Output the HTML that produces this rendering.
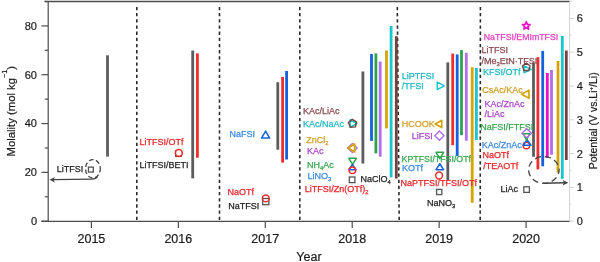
<!DOCTYPE html>
<html><head><meta charset="utf-8"><style>
html,body{margin:0;padding:0;background:#fff;}
body{width:600px;height:262px;overflow:hidden;}
svg{display:block;will-change:transform;}
text{font-family:"Liberation Sans",sans-serif;}
.t9{font-size:9px;stroke-width:0.25px;}
.t11{font-size:11px;fill:#1a1a1a;stroke:#1a1a1a;stroke-width:0.2px;}
.t12{font-size:12.5px;fill:#1a1a1a;stroke:#1a1a1a;stroke-width:0.2px;}
</style></head><body>
<svg width="600" height="262" viewBox="0 0 600 262">
<line x1="48.2" y1="1.5" x2="48.2" y2="221.5" stroke="#4d4d4d" stroke-width="1.2"/>
<line x1="44.5" y1="1.5" x2="570.2" y2="1.5" stroke="#4d4d4d" stroke-width="1.3"/>
<line x1="41.5" y1="221.3" x2="570.2" y2="221.3" stroke="#4d4d4d" stroke-width="1.3"/>
<line x1="569.5" y1="1.5" x2="569.5" y2="221.3" stroke="#d4d4d4" stroke-width="1"/>
<line x1="41.5" y1="221.20" x2="48.2" y2="221.20" stroke="#4d4d4d" stroke-width="1.2"/>
<text x="37" y="225.10" text-anchor="end" class="t11">0</text>
<line x1="44.8" y1="196.79" x2="48.2" y2="196.79" stroke="#4d4d4d" stroke-width="1.2"/>
<line x1="41.5" y1="172.38" x2="48.2" y2="172.38" stroke="#4d4d4d" stroke-width="1.2"/>
<text x="37" y="176.28" text-anchor="end" class="t11">20</text>
<line x1="44.8" y1="147.97" x2="48.2" y2="147.97" stroke="#4d4d4d" stroke-width="1.2"/>
<line x1="41.5" y1="123.56" x2="48.2" y2="123.56" stroke="#4d4d4d" stroke-width="1.2"/>
<text x="37" y="127.46" text-anchor="end" class="t11">40</text>
<line x1="44.8" y1="99.15" x2="48.2" y2="99.15" stroke="#4d4d4d" stroke-width="1.2"/>
<line x1="41.5" y1="74.74" x2="48.2" y2="74.74" stroke="#4d4d4d" stroke-width="1.2"/>
<text x="37" y="78.64" text-anchor="end" class="t11">60</text>
<line x1="44.8" y1="50.33" x2="48.2" y2="50.33" stroke="#4d4d4d" stroke-width="1.2"/>
<line x1="41.5" y1="25.92" x2="48.2" y2="25.92" stroke="#4d4d4d" stroke-width="1.2"/>
<text x="37" y="29.82" text-anchor="end" class="t11">80</text>
<line x1="44.8" y1="1.51" x2="48.2" y2="1.51" stroke="#4d4d4d" stroke-width="1.2"/>
<line x1="569.6" y1="221.20" x2="573.8" y2="221.20" stroke="#d0d0d0" stroke-width="1"/>
<text x="576.8" y="225.10" class="t11">0</text>
<line x1="569.6" y1="204.30" x2="571.8" y2="204.30" stroke="#d8d8d8" stroke-width="1"/>
<line x1="569.6" y1="187.40" x2="573.8" y2="187.40" stroke="#d0d0d0" stroke-width="1"/>
<text x="576.8" y="191.30" class="t11">1</text>
<line x1="569.6" y1="170.50" x2="571.8" y2="170.50" stroke="#d8d8d8" stroke-width="1"/>
<line x1="569.6" y1="153.60" x2="573.8" y2="153.60" stroke="#d0d0d0" stroke-width="1"/>
<text x="576.8" y="157.50" class="t11">2</text>
<line x1="569.6" y1="136.70" x2="571.8" y2="136.70" stroke="#d8d8d8" stroke-width="1"/>
<line x1="569.6" y1="119.80" x2="573.8" y2="119.80" stroke="#d0d0d0" stroke-width="1"/>
<text x="576.8" y="123.70" class="t11">3</text>
<line x1="569.6" y1="102.90" x2="571.8" y2="102.90" stroke="#d8d8d8" stroke-width="1"/>
<line x1="569.6" y1="86.00" x2="573.8" y2="86.00" stroke="#d0d0d0" stroke-width="1"/>
<text x="576.8" y="89.90" class="t11">4</text>
<line x1="569.6" y1="69.10" x2="571.8" y2="69.10" stroke="#d8d8d8" stroke-width="1"/>
<line x1="569.6" y1="52.20" x2="573.8" y2="52.20" stroke="#d0d0d0" stroke-width="1"/>
<text x="576.8" y="56.10" class="t11">5</text>
<line x1="569.6" y1="35.30" x2="571.8" y2="35.30" stroke="#d8d8d8" stroke-width="1"/>
<line x1="569.6" y1="18.40" x2="573.8" y2="18.40" stroke="#d0d0d0" stroke-width="1"/>
<text x="576.8" y="22.30" class="t11">6</text>
<line x1="569.6" y1="1.50" x2="571.8" y2="1.50" stroke="#d8d8d8" stroke-width="1"/>
<line x1="91.40" y1="221.3" x2="91.40" y2="228" stroke="#4d4d4d" stroke-width="1.2"/>
<text x="91.40" y="242.7" text-anchor="middle" class="t12">2015</text>
<line x1="178.34" y1="221.3" x2="178.34" y2="228" stroke="#4d4d4d" stroke-width="1.2"/>
<text x="178.34" y="242.7" text-anchor="middle" class="t12">2016</text>
<line x1="265.28" y1="221.3" x2="265.28" y2="228" stroke="#4d4d4d" stroke-width="1.2"/>
<text x="265.28" y="242.7" text-anchor="middle" class="t12">2017</text>
<line x1="352.22" y1="221.3" x2="352.22" y2="228" stroke="#4d4d4d" stroke-width="1.2"/>
<text x="352.22" y="242.7" text-anchor="middle" class="t12">2018</text>
<line x1="439.16" y1="221.3" x2="439.16" y2="228" stroke="#4d4d4d" stroke-width="1.2"/>
<text x="439.16" y="242.7" text-anchor="middle" class="t12">2019</text>
<line x1="526.10" y1="221.3" x2="526.10" y2="228" stroke="#4d4d4d" stroke-width="1.2"/>
<text x="526.10" y="242.7" text-anchor="middle" class="t12">2020</text>
<text x="309" y="260.6" text-anchor="middle" class="t12">Year</text>
<text transform="translate(14.6,111.2) rotate(-90)" text-anchor="middle" font-size="11.3" fill="#1a1a1a" stroke="#1a1a1a" stroke-width="0.2">Molality (mol kg<tspan dy="-8" font-size="7.2">−1</tspan><tspan dy="8">)</tspan></text>
<text transform="translate(596.6,120.8) rotate(-90)" text-anchor="middle" font-size="10.5" fill="#1a1a1a" stroke="#1a1a1a" stroke-width="0.2">Potential (V vs.Li<tspan dy="-4" font-size="6">+</tspan><tspan dy="4">/Li)</tspan></text>
<line x1="136.8" y1="6.9" x2="136.8" y2="221" stroke="#2a2a2a" stroke-width="1.6" stroke-dasharray="3.3 2.87"/>
<line x1="219.5" y1="6.9" x2="219.5" y2="221" stroke="#2a2a2a" stroke-width="1.6" stroke-dasharray="3.3 2.87"/>
<line x1="299.8" y1="6.9" x2="299.8" y2="221" stroke="#2a2a2a" stroke-width="1.6" stroke-dasharray="3.3 2.87"/>
<line x1="397.3" y1="6.9" x2="399.2" y2="221" stroke="#2a2a2a" stroke-width="1.6" stroke-dasharray="3.3 2.87"/>
<line x1="480.4" y1="6.9" x2="480.2" y2="221" stroke="#2a2a2a" stroke-width="1.6" stroke-dasharray="3.3 2.87"/>
<rect x="106.10" y="55.3" width="2.8" height="101.30" fill="#5c5c5c"/>
<rect x="191.30" y="50.5" width="2.8" height="127.90" fill="#5c5c5c"/>
<rect x="196.00" y="53.4" width="2.8" height="104.30" fill="#ef2e2c"/>
<rect x="276.40" y="82.2" width="2.8" height="67.50" fill="#5c5c5c"/>
<rect x="281.20" y="76.9" width="2.8" height="85.70" fill="#ef2e2c"/>
<rect x="285.20" y="71" width="2.8" height="88.50" fill="#1563dc"/>
<rect x="361.50" y="71.5" width="2.8" height="92.00" fill="#5c5c5c"/>
<rect x="370.10" y="54" width="2.8" height="86.90" fill="#1563dc"/>
<rect x="374.50" y="53.4" width="2.8" height="100.00" fill="#2fa24c"/>
<rect x="378.80" y="61.6" width="2.8" height="95.10" fill="#b06ee8"/>
<rect x="385.10" y="50.5" width="2.8" height="77.90" fill="#d6a408"/>
<rect x="389.70" y="26" width="2.8" height="151.40" fill="#19c6cc"/>
<rect x="394.90" y="36.2" width="2.8" height="142.40" fill="#74413f"/>
<rect x="446.40" y="62.4" width="2.8" height="117.60" fill="#5c5c5c"/>
<rect x="451.30" y="53.6" width="2.8" height="91.60" fill="#ef2e2c"/>
<rect x="455.80" y="54.4" width="2.8" height="101.60" fill="#1563dc"/>
<rect x="460.10" y="50.1" width="2.8" height="85.10" fill="#2fa24c"/>
<rect x="464.90" y="52.8" width="2.8" height="87.90" fill="#b06ee8"/>
<rect x="470.80" y="67.2" width="2.8" height="135.60" fill="#d6a408"/>
<rect x="475.00" y="68" width="2.8" height="72.00" fill="#19c6cc"/>
<rect x="532.10" y="62.3" width="2.8" height="94.50" fill="#5c5c5c"/>
<rect x="536.50" y="57.2" width="2.8" height="112.20" fill="#ef2e2c"/>
<rect x="541.30" y="50.9" width="2.8" height="115.40" fill="#1563dc"/>
<rect x="545.90" y="73" width="2.8" height="84.90" fill="#f00fc3"/>
<rect x="550.10" y="70" width="2.8" height="84.70" fill="#b06ee8"/>
<rect x="556.60" y="61" width="2.8" height="111.60" fill="#d6a408"/>
<rect x="560.90" y="36" width="2.8" height="142.90" fill="#19c6cc"/>
<rect x="564.90" y="50.5" width="2.8" height="109.50" fill="#74413f"/>
<text x="56.7" y="172.1" class="t9" fill="#222" stroke="#222">LiTFSI</text>
<text x="139.6" y="145.1" class="t9" fill="#e8262b" stroke="#e8262b">LiTFSI/OTf</text>
<text x="139.6" y="167.8" class="t9" fill="#222" stroke="#222">LiTFSI/BETI</text>
<text x="229.6" y="136.6" class="t9" fill="#3a8be3" stroke="#3a8be3">NaFSI</text>
<text x="227.5" y="195.3" class="t9" fill="#e8262b" stroke="#e8262b">NaOTf</text>
<text x="228.3" y="209" class="t9" fill="#222" stroke="#222">NaTFSI</text>
<text x="302.9" y="113.5" class="t9" fill="#8a4a50" stroke="#8a4a50">KAc/LiAc</text>
<text x="302.9" y="126.9" class="t9" fill="#1fb8c6" stroke="#1fb8c6">KAc/NaAc</text>
<text x="306.3" y="142.8" class="t9" fill="#cc9e22" stroke="#cc9e22">ZnCl<tspan dy="2" font-size="5.8">2</tspan></text>
<text x="307.1" y="154" class="t9" fill="#ac44cc" stroke="#ac44cc">KAc</text>
<text x="307.1" y="167.6" class="t9" fill="#36a64f" stroke="#36a64f">NH<tspan dy="2" font-size="5.8">4</tspan><tspan dy="-2">Ac</tspan></text>
<text x="307.4" y="178.5" class="t9" fill="#3a8be3" stroke="#3a8be3">LiNO<tspan dy="2" font-size="5.8">3</tspan></text>
<text x="304.7" y="191.7" class="t9" fill="#e8262b" stroke="#e8262b">LiTFSI/Zn(OTf)<tspan dy="2" font-size="5.8">2</tspan></text>
<text x="360.6" y="181.5" class="t9" fill="#222" stroke="#222">NaClO<tspan dy="2" font-size="5.8">4</tspan></text>
<text x="401.8" y="78.5" class="t9" fill="#1fb8c6" stroke="#1fb8c6">LiPTFSI</text>
<text x="401.8" y="89" class="t9" fill="#1fb8c6" stroke="#1fb8c6">/TFSI</text>
<text x="401.8" y="127" class="t9" fill="#cc9e22" stroke="#cc9e22">HCOOK</text>
<text x="411.7" y="138.9" class="t9" fill="#ac44cc" stroke="#ac44cc">LiFSI</text>
<text x="401.6" y="162.4" class="t9" fill="#36a64f" stroke="#36a64f"><tspan font-size="8.8">KPTFSI/TFSI/OTf</tspan></text>
<text x="401.9" y="170.8" class="t9" fill="#3a8be3" stroke="#3a8be3">KOTf</text>
<text x="400.6" y="185.5" class="t9" fill="#e8262b" stroke="#e8262b">NaPTFSI/TFSI/OTf</text>
<text x="426.9" y="206.2" class="t9" fill="#222" stroke="#222">NaNO<tspan dy="2" font-size="5.8">3</tspan></text>
<text x="483.8" y="39.7" class="t9" fill="#e83cc0" stroke="#e83cc0"><tspan font-size="8.75">NaTFSI/EMImTFSI</tspan></text>
<text x="481.6" y="53.3" class="t9" fill="#8a4a50" stroke="#8a4a50">LiTFSI</text>
<text x="481.6" y="63.7" class="t9" fill="#8a4a50" stroke="#8a4a50">/Me<tspan dy="2" font-size="5.8">3</tspan><tspan dy="-2">EtN·TFSI</tspan></text>
<text x="483" y="75" class="t9" fill="#1fb8c6" stroke="#1fb8c6">KFSI/OTf</text>
<text x="482.3" y="92.6" class="t9" fill="#cc9e22" stroke="#cc9e22">CsAc/KAc</text>
<text x="484.6" y="106.9" class="t9" fill="#ac44cc" stroke="#ac44cc">KAc/ZnAc</text>
<text x="484.6" y="117.2" class="t9" fill="#ac44cc" stroke="#ac44cc">/LiAc</text>
<text x="480.3" y="130.1" class="t9" fill="#36a64f" stroke="#36a64f">NaFSI/FTFSI</text>
<text x="481.8" y="147.8" class="t9" fill="#3a8be3" stroke="#3a8be3">KAc/ZnAc</text>
<text x="482.6" y="158.1" class="t9" fill="#e8262b" stroke="#e8262b">NaOTf</text>
<text x="483.3" y="168.5" class="t9" fill="#e8262b" stroke="#e8262b">/TEAOTf</text>
<text x="500.6" y="192" class="t9" fill="#222" stroke="#222">LiAc</text>
<rect x="88.45" y="167.15" width="4.9" height="4.9" fill="none" stroke="#555" stroke-width="1.3"/>
<ellipse cx="92.9" cy="168.8" rx="7.4" ry="9.2" fill="none" stroke="#444" stroke-width="1.3" stroke-dasharray="4.6 2.6" stroke-dashoffset="1"/>
<path d="M97.5,177 Q95.5,179.2 92,179.2 L53,179.7" stroke="#444" stroke-width="1.3" fill="none"/>
<polygon points="49.5,179.7 55,176.9 53.6,179.7 55,182.5" fill="#444"/>
<rect x="175.70" y="150.70" width="5.6" height="5.6" fill="none" stroke="#333" stroke-width="1.2"/>
<circle cx="178.85" cy="152.9" r="3.4" fill="#fff" stroke="none"/>
<circle cx="178.85" cy="152.9" r="3.45" fill="none" stroke="#ef2e2c" stroke-width="1.6"/>
<polygon points="265.60,131.15 269.65,138.05 261.55,138.05" fill="none" stroke="#1563dc" stroke-width="1.5" stroke-linejoin="round"/>
<rect x="262.70" y="198.50" width="6.2" height="6.2" fill="none" stroke="#555" stroke-width="1.3"/>
<circle cx="265.8" cy="198.4" r="3.4" fill="none" stroke="#ef2e2c" stroke-width="1.5"/>
<polygon points="356.85,123.50 350.15,119.75 350.15,127.25" fill="none" stroke="#19c6cc" stroke-width="1.5" stroke-linejoin="round"/>
<polygon points="352.30,119.31 356.59,121.99 355.36,126.89 350.32,127.25 348.43,122.56" fill="none" stroke="#74413f" stroke-width="1.4"/>
<polygon points="347.60,148 352.4,143.30 357.20,148 352.4,152.70" fill="none" stroke="#b06ee8" stroke-width="1.3"/>
<polygon points="348.20,147.90 354.60,143.90 354.60,151.90" fill="none" stroke="#d6a408" stroke-width="1.8" stroke-linejoin="round"/>
<polygon points="352.60,164.45 356.35,158.35 348.85,158.35" fill="none" stroke="#2fa24c" stroke-width="1.5" stroke-linejoin="round"/>
<polygon points="352.40,164.35 355.95,169.85 348.85,169.85" fill="none" stroke="#1563dc" stroke-width="1.5" stroke-linejoin="round"/>
<circle cx="352.4" cy="170.3" r="3.3" fill="none" stroke="#ef2e2c" stroke-width="1.5"/>
<rect x="349.30" y="177.00" width="5.6" height="5.6" fill="none" stroke="#555" stroke-width="1.3"/>
<polygon points="444.35,85.85 437.25,82.15 437.25,89.55" fill="none" stroke="#19c6cc" stroke-width="1.5" stroke-linejoin="round"/>
<polygon points="435.25,123.90 441.75,120.35 441.75,127.45" fill="none" stroke="#d6a408" stroke-width="1.7" stroke-linejoin="round"/>
<polygon points="434.80,135.7 439.4,131.10 444.00,135.7 439.4,140.30" fill="none" stroke="#b06ee8" stroke-width="1.4"/>
<polygon points="439.80,158.65 443.55,152.35 436.05,152.35" fill="none" stroke="#2fa24c" stroke-width="1.5" stroke-linejoin="round"/>
<polygon points="439.80,163.75 443.55,169.65 436.05,169.65" fill="none" stroke="#1563dc" stroke-width="1.5" stroke-linejoin="round"/>
<circle cx="439.1" cy="175.5" r="3.4" fill="none" stroke="#ef2e2c" stroke-width="1.5"/>
<rect x="436.60" y="189.40" width="5.2" height="5.2" fill="none" stroke="#555" stroke-width="1.3"/>
<polygon points="526.30,21.85 527.39,24.30 530.06,24.58 528.06,26.37 528.62,29.00 526.30,27.65 523.98,29.00 524.54,26.37 522.54,24.58 525.21,24.30" fill="none" stroke="#f00fc3" stroke-width="1.8" stroke-linejoin="round"/>
<polygon points="531.15,69.40 523.95,65.95 523.95,72.85" fill="none" stroke="#19c6cc" stroke-width="1.5" stroke-linejoin="round"/>
<polygon points="526.30,63.10 530.20,65.93 528.71,70.52 523.89,70.52 522.40,65.93" fill="none" stroke="#74413f" stroke-width="1.3"/>
<polygon points="521.75,94.20 528.95,90.25 528.95,98.15" fill="none" stroke="#d6a408" stroke-width="1.7" stroke-linejoin="round"/>
<circle cx="526.4" cy="145.5" r="3.3" fill="none" stroke="#ef2e2c" stroke-width="1.5"/>
<polygon points="527.10,139.75 531.05,145.25 523.15,145.25" fill="none" stroke="#1563dc" stroke-width="1.5" stroke-linejoin="round"/>
<polygon points="526.40,140.25 529.65,133.75 523.15,133.75" fill="none" stroke="#2fa24c" stroke-width="1.5" stroke-linejoin="round"/>
<polygon points="521.90,133.3 526.7,128.80 531.50,133.3 526.7,137.80" fill="none" stroke="#b06ee8" stroke-width="1.4"/>
<rect x="523.80" y="186.80" width="5.6" height="5.6" fill="none" stroke="#555" stroke-width="1.3"/>
<ellipse cx="543.8" cy="169.9" rx="15.2" ry="13.4" fill="none" stroke="#444" stroke-width="1.3" stroke-dasharray="6.2 3.8" stroke-dashoffset="2"/>
<path d="M543,183.2 L565,182.8" stroke="#444" stroke-width="1.4" fill="none"/>
<polygon points="568.4,182.8 562.6,180 564,182.8 562.6,185.6" fill="#444"/>
</svg>
</body></html>
